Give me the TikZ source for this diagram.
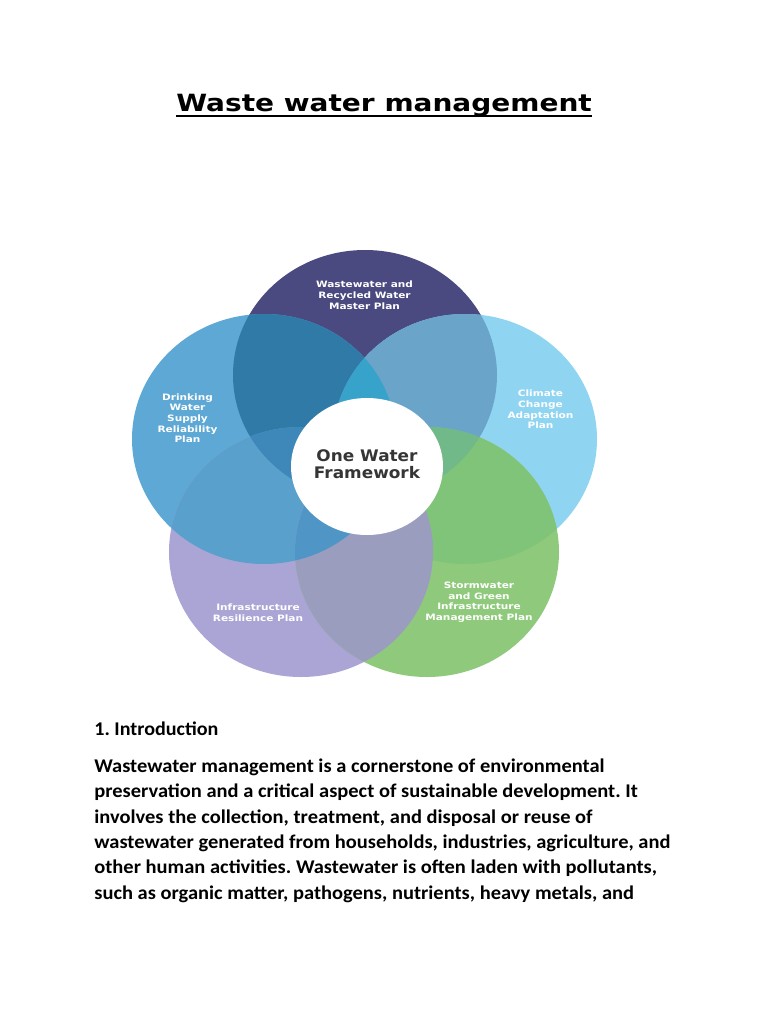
\documentclass[tikz,border=0pt]{standalone}
\usepackage{fontspec}
\usepackage{graphicx}
\setmainfont{Carlito}
\newfontfamily\djv{DejaVu Sans}
\usetikzlibrary{calc}
\frenchspacing
\definecolor{cT}{HTML}{4B4A80}
\definecolor{cL}{HTML}{5DA8D5}
\definecolor{cR}{HTML}{8FD5F2}
\definecolor{cBL}{HTML}{AAA5D5}
\definecolor{cBR}{HTML}{8FCA7C}
\definecolor{cTL}{HTML}{2F7AA7}
\definecolor{cTR}{HTML}{6AA4C9}
\definecolor{cLBL}{HTML}{5AA0CD}
\definecolor{cRBR}{HTML}{80C479}
\definecolor{cBLBR}{HTML}{9A9DBE}
\definecolor{cTLR}{HTML}{37A2CA}
\definecolor{cTLBL}{HTML}{3E88B9}
\definecolor{cLBLBR}{HTML}{4F96C6}
\definecolor{cTRBR}{HTML}{72B98A}
\definecolor{ink}{HTML}{111111}
\newcommand\lab[1]{\scalebox{1.2}[1]{\begin{tabular}{@{}c@{}}#1\end{tabular}}}
\newcommand\midlab[1]{\scalebox{1.06}[1]{\begin{tabular}{@{}c@{}}#1\end{tabular}}}
\newcommand\bodyline[1]{\scalebox{1.055}[1]{#1}}
\def\pT{(365,375) ellipse [x radius=132, y radius=125]}
\def\pL{(264,439) ellipse [x radius=132, y radius=125]}
\def\pR{(465,439) ellipse [x radius=132, y radius=125]}
\def\pBL{(301,552) ellipse [x radius=132, y radius=125]}
\def\pBR{(427,552) ellipse [x radius=132, y radius=125]}
\newcommand\pairfill[3]{\begin{scope}\clip #1; \fill[#3] #2;\end{scope}}
\newcommand\trifill[4]{\begin{scope}\clip #1; \clip #2; \fill[#4] #3;\end{scope}}
\begin{document}
\begin{tikzpicture}[x=0.02cm,y=-0.02cm,
  labtxt/.style={text=white,inner sep=0pt,font=\djv\bfseries\fontsize{5}{6.1}\selectfont},
  midtxt/.style={text=ink!85,inner sep=0pt,font=\djv\bfseries\fontsize{9.07}{9.41}\selectfont},
  bodytxt/.style={text=black,inner sep=0pt,anchor=base west,font=\bfseries\fontsize{11.05}{13}\selectfont}]
\useasboundingbox (0,0) rectangle (768,1024);
\fill[white] (0,0) rectangle (768,1024);
% title
\node[inner sep=0pt,anchor=base west,font=\djv\bfseries\fontsize{13.5}{16}\selectfont] (title) at (176,111.7) {\scalebox{1.18}[1]{Waste water management}};
\draw[line width=2*0.5669pt] ($(title.base west)+(0,4)$) -- ($(title.base east)+(0,4)$);
% circles
\fill[cT] \pT; \fill[cL] \pL; \fill[cR] \pR; \fill[cBL] \pBL; \fill[cBR] \pBR;
% non adjacent pairs
\pairfill{\pT}{\pBL}{cTLBL}
\pairfill{\pT}{\pBR}{cTRBR}
\pairfill{\pL}{\pBR}{cLBLBR}
\pairfill{\pR}{\pBL}{cBLBR}
\pairfill{\pL}{\pR}{cTLR}
% adjacent pairs
\pairfill{\pT}{\pL}{cTL}
\pairfill{\pT}{\pR}{cTR}
\pairfill{\pL}{\pBL}{cLBL}
\pairfill{\pR}{\pBR}{cRBR}
\pairfill{\pBL}{\pBR}{cBLBR}
% triples
\trifill{\pT}{\pL}{\pR}{cTLR}
\trifill{\pT}{\pL}{\pBL}{cTLBL}
\trifill{\pT}{\pR}{\pBR}{cTRBR}
\trifill{\pL}{\pBL}{\pBR}{cLBLBR}
\trifill{\pR}{\pBL}{\pBR}{cBLBR}
% centre
\fill[white] (367,466.5) ellipse [x radius=76, y radius=68.5];
\node[midtxt] (one) at (367,466.7) {\midlab{One Water\\Framework}};
% labels
\node[labtxt] (ww) at (364.5,296.3) {\lab{Wastewater and\\Recycled Water\\Master Plan}};
\node[labtxt] (dw) at (187.5,419.4) {\lab{Drinking\\Water\\Supply\\Reliability\\Plan}};
\node[labtxt] (cc) at (540.5,410.7) {\lab{Climate\\Change\\Adaptation\\Plan}};
\node[labtxt] (ir) at (258,614) {\lab{Infrastructure\\Resilience Plan}};
\node[labtxt] (sg) at (479,602.3) {\lab{Stormwater\\and Green\\Infrastructure\\Management Plan}};
% body
\node[bodytxt] (h1) at (94,735.7) {\scalebox{1.035}[1]{1. Introduction}};
\node[bodytxt] (l1) at (94,772.3) {\bodyline{Wastewater management is a cornerstone of environmental}};
\node[bodytxt] (l2) at (94,797.7) {\bodyline{preservation and a critical aspect of sustainable development. It}};
\node[bodytxt] (l3) at (94,823.1) {\bodyline{involves the collection, treatment, and disposal or reuse of}};
\node[bodytxt] (l4) at (94,848.5) {\bodyline{wastewater generated from households, industries, agriculture, and}};
\node[bodytxt] (l5) at (94,873.9) {\bodyline{other human activities. Wastewater is often laden with pollutants,}};
\node[bodytxt] (l6) at (94,899.3) {\bodyline{such as organic matter, pathogens, nutrients, heavy metals, and}};
\end{tikzpicture}
\end{document}
